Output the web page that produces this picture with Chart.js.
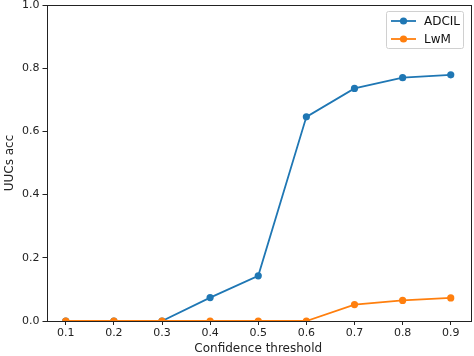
<!DOCTYPE html>
<html><head><meta charset="utf-8">
<script src="https://cdn.jsdelivr.net/npm/chart.js@4/dist/chart.umd.min.js"></script>
<style>html,body{margin:0;padding:0;background:#fff}#wrap{width:474px;height:356px}</style>
</head><body><div id="wrap"><canvas id="c" width="474" height="356"></canvas></div>
<script>
const thresholds = [0.1, 0.2, 0.3, 0.4, 0.5, 0.6, 0.7, 0.8, 0.9];
const adcil = [0, 0, 0, 0.074, 0.143, 0.646, 0.736, 0.770, 0.779];
const lwm = [0, 0, 0, 0, 0, 0, 0.052, 0.065, 0.073];
const xTicks = [0.1, 0.2, 0.3, 0.4, 0.5, 0.6, 0.7, 0.8, 0.9];
const yTicks = [0.0, 0.2, 0.4, 0.6, 0.8, 1.0];
const seriesNames = ['ADCIL', 'LwM'];
const colors = ['#1f77b4', '#ff7f0e'];

const toPts = arr => thresholds.map((x, i) => ({x: x, y: arr[i]}));
const FONT = 'DejaVu Sans';

const frame = {
  id: 'frame',
  afterDatasetsDraw(chart) {
    const {ctx, chartArea: a} = chart;
    ctx.save();
    ctx.strokeStyle = '#222';
    ctx.lineWidth = 1;
    ctx.strokeRect(Math.round(a.left) + 0.5, Math.round(a.top) + 0.5, Math.round(a.right - a.left), Math.round(a.bottom - a.top));
    // legend
    const bx = 386.5, by = 11.5, bw = 77, bh = 37;
    ctx.fillStyle = 'rgba(255,255,255,0.8)';
    ctx.strokeStyle = '#d0d0d0';
    ctx.lineWidth = 1;
    ctx.beginPath();
    if (ctx.roundRect) ctx.roundRect(bx, by, bw, bh, 2); else ctx.rect(bx, by, bw, bh);
    ctx.fill(); ctx.stroke();
    const rows = [21, 39];
    seriesNames.forEach((name, i) => {
      const y = rows[i];
      ctx.strokeStyle = colors[i];
      ctx.lineWidth = 1.8;
      ctx.beginPath(); ctx.moveTo(391, y); ctx.lineTo(416, y); ctx.stroke();
      ctx.fillStyle = colors[i];
      ctx.beginPath(); ctx.arc(403.5, y, 3.6, 0, Math.PI * 2); ctx.fill();
      ctx.fillStyle = '#111';
      ctx.font = '12px "' + FONT + '"';
      ctx.textBaseline = 'middle';
      ctx.textAlign = 'left';
      ctx.fillText(name, 424, y + 0.5);
    });
    ctx.restore();
  }
};

new Chart(document.getElementById('c'), {
  type: 'line',
  data: {
    datasets: [
      {label: seriesNames[0], data: toPts(adcil), borderColor: colors[0], backgroundColor: colors[0], borderWidth: 1.8, pointRadius: 3.6, pointBorderWidth: 0, pointHoverRadius: 3.6, tension: 0, clip: 0, order: 1},
      {label: seriesNames[1], data: toPts(lwm), borderColor: colors[1], backgroundColor: colors[1], borderWidth: 1.8, pointRadius: 3.6, pointBorderWidth: 0, pointHoverRadius: 3.6, tension: 0, clip: 0, order: 0}
    ]
  },
  options: {
    responsive: false,
    animation: false,
    devicePixelRatio: 1,
    layout: {padding: {top: 5, right: 4, left: 0, bottom: 0}},
    plugins: {legend: {display: false}, tooltip: {enabled: false}},
    scales: {
      x: {
        type: 'linear', min: 0.06, max: 0.94,
        afterBuildTicks: s => { s.ticks = xTicks.map(v => ({value: v})); },
        afterFit: s => { s.height = 35; s.paddingLeft = 0; s.paddingRight = 0; },
        grid: {drawOnChartArea: false, tickLength: 4, color: '#222', tickColor: '#222'},
        border: {display: false},
        ticks: {color: '#222', font: {family: FONT, size: 11}, padding: 2, maxRotation: 0, callback: v => v.toFixed(1)},
        title: {display: true, text: 'Confidence threshold', color: '#222', font: {family: FONT, size: 12}, padding: {top: 0, bottom: 0}}
      },
      y: {
        type: 'linear', min: 0, max: 1,
        afterBuildTicks: s => { s.ticks = yTicks.map(v => ({value: v})); },
        afterFit: s => { s.width = 46.5; s.paddingTop = 0; s.paddingBottom = 0; },
        grid: {drawOnChartArea: false, tickLength: 4, color: '#222', tickColor: '#222'},
        border: {display: false},
        ticks: {color: '#222', font: {family: FONT, size: 11}, padding: 3, callback: v => v.toFixed(1)},
        title: {display: true, text: 'UUCs acc', color: '#222', font: {family: FONT, size: 12}, padding: {top: 3, bottom: 2}}
      }
    }
  },
  plugins: [frame]
});
</script></body></html>
